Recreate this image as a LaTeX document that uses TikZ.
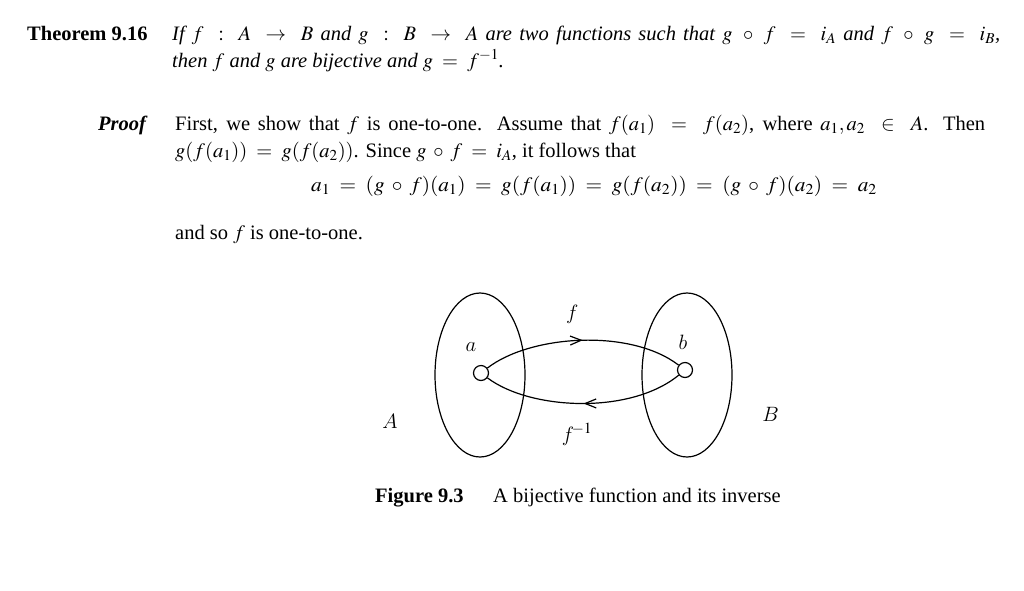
\documentclass[tikz,border=0pt]{standalone}
\usepackage{mathptmx}
\usepackage{fontspec}
\setmainfont{Liberation Serif}
\usetikzlibrary{decorations.markings,arrows.meta}
\newcommand{\cmi}[1]{{\fontencoding{OML}\fontfamily{cmm}\fontshape{it}\selectfont #1}}
\begin{document}
\thickmuskip=8mu plus 6mu
\medmuskip=6mu plus 4mu
\begin{tikzpicture}[x=1pt,y=-1pt,
  txt/.style={anchor=base west,inner sep=0pt,font=\fontsize{20.5}{24}\selectfont},
  lbl/.style={inner sep=0pt,font=\fontsize{21}{24}\selectfont},
  dot/.style={circle,draw,fill=white,minimum size=15pt,inner sep=0pt,line width=1.2pt},
  set/.style={draw,line width=1.2pt},
  mid/.style={postaction={decorate},decoration={markings,mark=at position 0.5 with {\arrow{Straight Barb[length=11pt,width=9pt,line width=1.2pt]}}}}]
\useasboundingbox (0,0) rectangle (1024,590);
\node[txt] (t1) at (27,40) {\textbf{Theorem 9.16}};
\node[txt] (t2) at (172,40) {\makebox[828pt][s]{\textit{If $f:A\to B$ and $g:B\to A$ are two functions such that $g\circ f=i_A$ and $f\circ g=i_B$,}}};
\node[txt] (t3) at (172,67) {\textit{then $f$ and $g$ are bijective and $g=f^{-1}$.}};
\node[txt] (p0) at (98,130) {\textbf{\textit{Proof}}};
\node[txt] (p1) at (175,130) {\makebox[810pt][s]{First, we show that $f$ is one-to-one. Assume that $f(a_1)=f(a_2)$, where $a_1,a_2\in A$. Then}};
\node[txt] (p2) at (175,157) {$g(f(a_1))=g(f(a_2))$. Since $g\circ f=i_A$, it follows that};
\node[txt,anchor=base] (p3) at (594,191) {\scalebox{1.04}[1]{$a_1=(g\circ f)(a_1)=g(f(a_1))=g(f(a_2))=(g\circ f)(a_2)=a_2$}};
\node[txt] (p4) at (175,239) {and so $f$ is one-to-one.};
\node[txt] (c1) at (375,502) {\textbf{Figure 9.3}};
\node[txt] (c2) at (493,502) {A bijective function and its inverse};
\draw[set] (480,375) ellipse [x radius=45,y radius=82];
\draw[set] (687,375) ellipse [x radius=45,y radius=82];
\node[dot] (a) at (481,373) {};
\node[dot] (b) at (685,370) {};
\draw[line width=1.2pt,mid] (a) .. controls (530,335) and (630,328) .. (b);
\draw[line width=1.2pt,mid] (b) .. controls (630,415) and (530,410) .. (a);
\node[lbl] (la) at (471,347) {\cmi{a}};
\node[lbl] (lb) at (683,342) {\cmi{b}};
\node[lbl] (lf) at (571,314) {\cmi{f}};
\node[lbl] (lfi) at (577,434) {\cmi{f}$^{-1}$};
\node[lbl] (lA) at (390,421) {\cmi{A}};
\node[lbl] (lB) at (770,414) {\cmi{B}};
\end{tikzpicture}
\end{document}
